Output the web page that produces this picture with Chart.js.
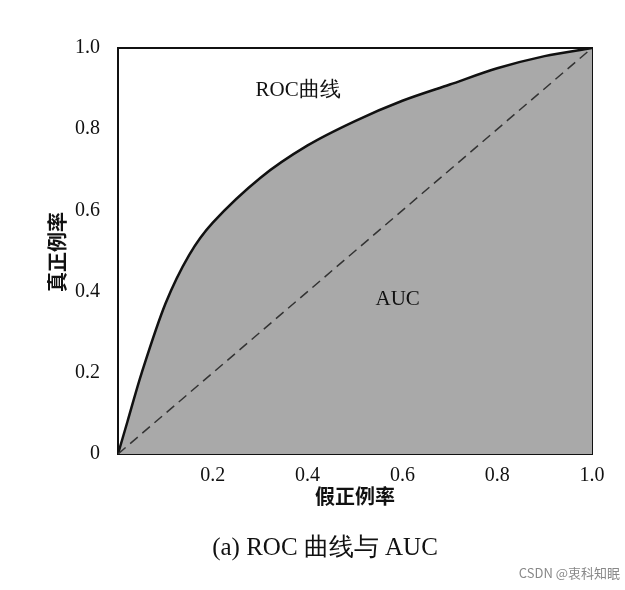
<!DOCTYPE html>
<html>
<head>
<meta charset="utf-8">
<script src="https://cdn.jsdelivr.net/npm/chart.js@4"></script>
<style>
  body { margin: 0; background: #fff; }
  #wrap { width: 625px; height: 590px; }
</style>
</head>
<body>
<div id="wrap"><canvas id="roc" width="625" height="590"></canvas></div>
<script>
// ROC curve
const fpr = [0, 0.02, 0.05, 0.1, 0.15, 0.2, 0.3, 0.4, 0.5, 0.6, 0.7, 0.8, 0.9, 1.0];
const tpr = [0, 0.08, 0.2, 0.37, 0.49, 0.57, 0.68, 0.76, 0.82, 0.87, 0.91, 0.95, 0.98, 1.0];
const diag = [0, 1];
const xTicks = [0.2, 0.4, 0.6, 0.8, 1.0];
const yTicks = [0, 0.2, 0.4, 0.6, 0.8, 1.0];

const serif = "'Liberation Serif', 'DejaVu Serif', serif";
const cjk = "'Noto Sans CJK SC', serif";

const labels = {
  id: "labels",
  afterDraw(chart) {
    const c = chart.ctx, x = chart.scales.x, y = chart.scales.y;
    c.save();
    c.fillStyle = "#111";
    c.textAlign = "center";
    c.textBaseline = "middle";
    c.font = "21px " + serif;
    c.fillText("ROC曲线", x.getPixelForValue(0.38), y.getPixelForValue(0.895));
    c.fillText("AUC", x.getPixelForValue(0.59), y.getPixelForValue(0.38));
    c.font = "bold 20px " + cjk;
    c.fillText("假正例率", 355, 496);
    c.save();
    c.translate(57, 252);
    c.rotate(-Math.PI / 2);
    c.fillText("真正例率", 0, 0);
    c.restore();
    c.font = "25px " + serif;
    c.fillText("(a) ROC 曲线与 AUC", 325, 548);
    c.font = "13px " + cjk;
    c.fillStyle = "#888";
    c.textAlign = "right";
    c.fillText("CSDN @衷科知眠", 620, 573);
    c.restore();
  }
};

new Chart(document.getElementById("roc"), {
  type: "scatter",
  data: {
    datasets: [
      {
        data: diag.map(v => ({ x: v, y: v })),
        showLine: true,
        borderColor: "#333",
        borderWidth: 1.5,
        borderDash: [10, 6],
        pointRadius: 0
      },
      {
        data: fpr.map((v, i) => ({ x: v, y: tpr[i] })),
        showLine: true,
        borderColor: "#111",
        borderWidth: 2.5,
        backgroundColor: "#a9a9a9",
        fill: "origin",
        pointRadius: 0,
        tension: 0.3
      }
    ]
  },
  options: {
    responsive: false,
    animation: false,
    layout: { padding: { top: 40, right: 25 } },
    plugins: { legend: { display: false }, tooltip: { enabled: false } },
    scales: {
      x: {
        min: 0, max: 1,
        afterFit: s => { s.height = 136; },
        afterBuildTicks: s => { s.ticks = xTicks.map(v => ({ value: v })); },
        ticks: { color: "#111", font: { family: serif, size: 20 }, padding: 2, callback: v => v.toFixed(1) },
        grid: { display: false },
        border: { color: "#111", width: 2 }
      },
      y: {
        min: 0, max: 1,
        afterFit: s => { s.width = 118; },
        afterBuildTicks: s => { s.ticks = yTicks.map(v => ({ value: v })); },
        ticks: { color: "#111", font: { family: serif, size: 20 }, padding: 10, callback: v => v === 0 ? "0" : v.toFixed(1) },
        grid: { display: false },
        border: { color: "#111", width: 2 }
      },
      x2: { position: "top", display: true, ticks: { display: false }, grid: { display: false }, border: { color: "#111", width: 2 } },
      y2: { position: "right", display: true, ticks: { display: false }, grid: { display: false }, border: { color: "#111", width: 2 } }
    }
  },
  plugins: [labels]
});
</script>
</body>
</html>
